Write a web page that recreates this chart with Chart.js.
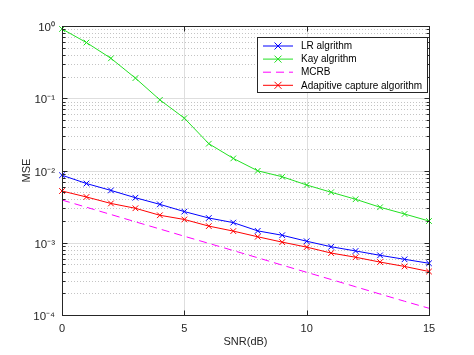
<!DOCTYPE html>
<html><head><meta charset="utf-8">
<script src="https://cdn.jsdelivr.net/npm/chart.js@4/dist/chart.umd.min.js"></script>
<style>html,body{margin:0;padding:0;background:#fff}#wrap{width:474px;height:355px}</style>
</head><body><div id="wrap"><canvas id="c" width="474" height="355"></canvas></div>
<script>
const snr = [0,1,2,3,4,5,6,7,8,9,10,11,12,13,14,15];
const lrAlgorithm = [0.0086,0.0066,0.0053,0.0042,0.0034,0.0027,0.0022,0.0019,0.00146,0.00127,0.00105,0.00088,0.00077,0.00067,0.00059,0.00052];
const kayAlgorithm = [0.91,0.59,0.357,0.19,0.095,0.053,0.0235,0.0147,0.0099,0.0082,0.0063,0.0050,0.0040,0.0031,0.0025,0.0020];
const mcrb = [0.0039,0.0031,0.00246,0.00195,0.00155,0.00123,0.00098,0.00078,0.00062,0.00049,0.00039,0.00031,0.000246,0.000195,0.000155,0.000124];
const adaptiveCapture = [0.0052,0.0043,0.0035,0.0030,0.0024,0.0021,0.0017,0.00145,0.00121,0.00102,0.00087,0.00072,0.00063,0.00054,0.00047,0.00040];
const seriesLabels = ['LR algrithm','Kay algrithm','MCRB','Adapitive capture algorithm'];
const xTicks = [0,5,10,15];
const yTicks = [1e-4,1e-3,1e-2,1e-1,1];
const yTickLabels = ['10\u207B\u2074','10\u207B\u00B3','10\u207B\u00B2','10\u207B\u00B9','10\u2070'];

const pts = arr => snr.map((s,i)=>({x:s,y:arr[i]}));
const FONT = '"Liberation Sans", Arial, Helvetica, sans-serif';

const framePlugin = {
  id:'frame',
  beforeDatasetsDraw(chart){
    const {ctx, chartArea:{left,right,top,bottom}, scales:{x,y}} = chart;
    ctx.save();
    ctx.lineWidth = 1;
    ctx.strokeStyle = '#c4c4c4';
    ctx.setLineDash([1,2]);
    for (let k=0;k<yTicks.length-1;k++){
      for (let m=2;m<=9;m++){
        const py = Math.round(y.getPixelForValue(yTicks[k]*m))+0.5;
        ctx.beginPath(); ctx.moveTo(left,py); ctx.lineTo(right,py); ctx.stroke();
      }
    }
    ctx.setLineDash([]);
    ctx.strokeStyle = '#dedede';
    yTicks.forEach(v=>{
      const py = Math.round(y.getPixelForValue(v))+0.5;
      ctx.beginPath(); ctx.moveTo(left,py); ctx.lineTo(right,py); ctx.stroke();
    });
    xTicks.forEach(v=>{
      const px = Math.round(x.getPixelForValue(v))+0.5;
      ctx.beginPath(); ctx.moveTo(px,top); ctx.lineTo(px,bottom); ctx.stroke();
    });
    ctx.restore();
  },
  afterDatasetsDraw(chart){
    const {ctx, chartArea:{left,right,top,bottom}, scales:{x,y}} = chart;
    ctx.save();
    ctx.lineWidth = 1;
    ctx.strokeStyle = '#262626';
    ctx.setLineDash([]);
    const L = Math.round(left)+0.5, R = Math.round(right)+0.5, T = Math.round(top)+0.5, B = Math.round(bottom)+0.5;
    ctx.strokeRect(L, T, R-L, B-T);
    ctx.beginPath();
    yTicks.forEach(v=>{
      const py = Math.round(y.getPixelForValue(v))+0.5;
      ctx.moveTo(L,py); ctx.lineTo(L+5,py);
      ctx.moveTo(R,py); ctx.lineTo(R-5,py);
    });
    for (let k=0;k<yTicks.length-1;k++){
      for (let m=2;m<=9;m++){
        const py = Math.round(y.getPixelForValue(yTicks[k]*m))+0.5;
        ctx.moveTo(L,py); ctx.lineTo(L+3,py);
        ctx.moveTo(R,py); ctx.lineTo(R-3,py);
      }
    }
    xTicks.forEach(v=>{
      const px = Math.round(x.getPixelForValue(v))+0.5;
      ctx.moveTo(px,B); ctx.lineTo(px,B-5);
      ctx.moveTo(px,T); ctx.lineTo(px,T+5);
    });
    ctx.stroke();
    ctx.restore();
  },
  afterDraw(chart){
    const ctx = chart.ctx;
    const bx = 257.5, by = 37.5, bw = 170, bh = 55;
    ctx.save();
    ctx.fillStyle = '#fff';
    ctx.fillRect(bx,by,bw,bh);
    ctx.strokeStyle = '#262626'; ctx.lineWidth = 1;
    ctx.strokeRect(bx,by,bw,bh);
    chart.data.datasets.forEach((ds,i)=>{
      const ry = 46 + i*13.1;
      ctx.strokeStyle = ds.borderColor;
      ctx.lineWidth = 1;
      ctx.setLineDash(ds.borderDash || []);
      ctx.beginPath(); ctx.moveTo(263,ry); ctx.lineTo(293,ry); ctx.stroke();
      ctx.setLineDash([]);
      if (ds.pointRadius > 0){
        const r = 3.5;
        ctx.beginPath();
        ctx.moveTo(278-r,ry-r); ctx.lineTo(278+r,ry+r);
        ctx.moveTo(278-r,ry+r); ctx.lineTo(278+r,ry-r);
        ctx.stroke();
      }
      ctx.fillStyle = '#000';
      ctx.font = '10px ' + FONT;
      ctx.textAlign = 'left'; ctx.textBaseline = 'middle';
      ctx.fillText(ds.label, 301, ry+0.5);
    });
    ctx.restore();
  }
};

const mk = (label, arr, color, dash, marker) => ({
  label, data: pts(arr), borderColor: color, backgroundColor: color,
  borderWidth: 1, borderDash: dash, pointStyle: 'crossRot',
  pointRadius: marker ? 4 : 0, pointBorderWidth: 1, pointBorderColor: color,
  tension: 0, fill: false, clip: false
});

new Chart(document.getElementById('c'), {
  type: 'line',
  data: { datasets: [
    mk(seriesLabels[0], lrAlgorithm, '#0000ff', [], true),
    mk(seriesLabels[1], kayAlgorithm, '#22e022', [], true),
    mk(seriesLabels[2], mcrb, '#ff00ff', [8,5], false),
    mk(seriesLabels[3], adaptiveCapture, '#ff0000', [], true)
  ]},
  options: {
    responsive: false, animation: false,
    layout: { padding: { top: 26, right: 45, left: 0, bottom: 0 } },
    plugins: { legend: { display: false }, tooltip: { enabled: false } },
    scales: {
      x: {
        type: 'linear', min: 0, max: 15,
        afterBuildTicks: s => { s.ticks = xTicks.map(v=>({value:v})); },
        afterFit: s => { s.height = 40; },
        grid: { display: false, drawTicks: false },
        border: { display: false },
        ticks: { padding: 7, color: '#262626', font: { family: FONT, size: 11 }, maxRotation: 0 },
        title: { display: true, text: 'SNR(dB)', color: '#262626', font: { family: FONT, size: 11 }, padding: { bottom: 6, top: 0 } }
      },
      y: {
        type: 'logarithmic', min: 1e-4, max: 1,
        afterBuildTicks: s => { s.ticks = yTicks.map(v=>({value:v})); },
        afterFit: s => { s.width = 62; },
        grid: { display: false, drawTicks: false },
        border: { display: false },
        ticks: { padding: 7, color: '#262626', labelOffset: 2, font: { family: FONT, size: 11.5 },
          callback: (v) => { const i = yTicks.findIndex(t => Math.abs(t - v) / t < 1e-6); return i >= 0 ? yTickLabels[i] : ''; } },
        title: { display: true, text: 'MSE', color: '#262626', font: { family: FONT, size: 11 }, padding: { top: 20, bottom: 0 } }
      }
    }
  },
  plugins: [framePlugin]
});
</script>
</body></html>
